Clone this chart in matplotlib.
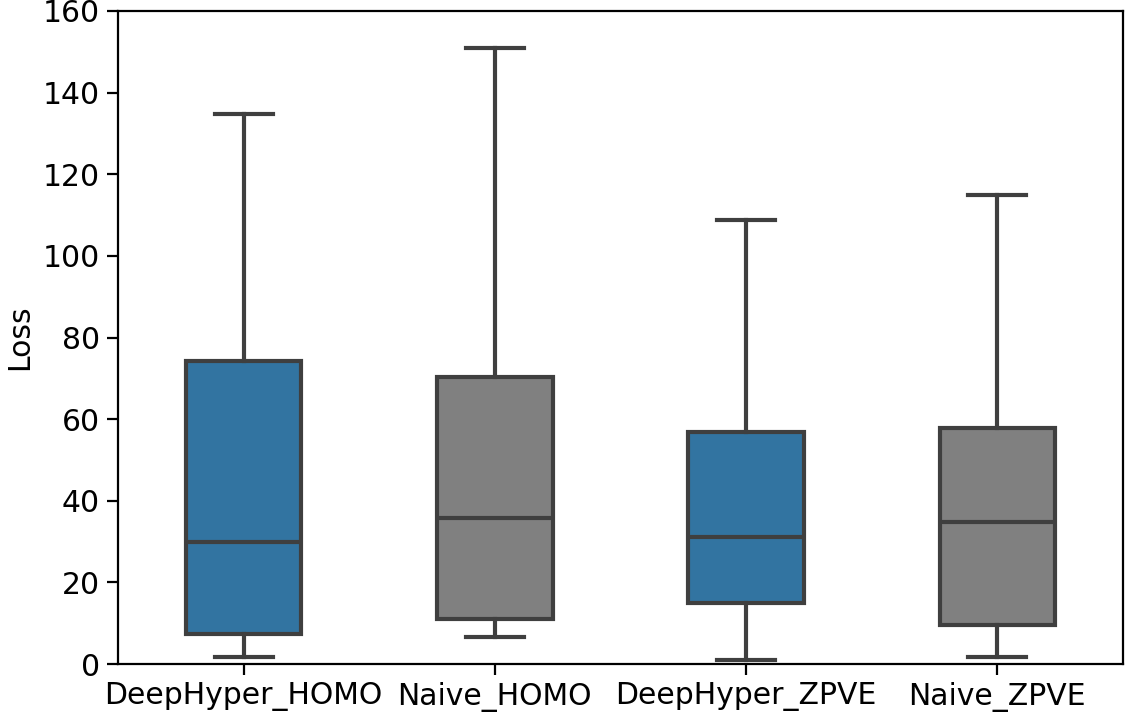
import matplotlib
matplotlib.use("Agg")
import matplotlib.pyplot as plt

labels = ["DeepHyper_HOMO", "Naive_HOMO", "DeepHyper_ZPVE", "Naive_ZPVE"]
whislo = [1.7, 6.6, 1.0, 1.7]
q1 = [7.3, 11.0, 14.9, 9.6]
med = [29.9, 35.8, 31.1, 34.8]
q3 = [74.2, 70.3, 56.8, 57.8]
whishi = [134.8, 150.9, 108.8, 114.9]
colors = ["#3274a1", "#808080", "#3274a1", "#808080"]

stats = []
for i in range(len(labels)):
    stats.append(dict(label=labels[i], whislo=whislo[i], q1=q1[i], med=med[i],
                      q3=q3[i], whishi=whishi[i], fliers=[]))

fig = plt.figure(figsize=(11.25, 7.15), dpi=100)
ax = fig.add_axes([118 / 1125, 1 - 664 / 715, 1005 / 1125, 653 / 715])

lc = "#3f3f3f"
lw = 3.0
bp = ax.bxp(stats, positions=range(len(labels)), widths=0.46, patch_artist=True,
            showfliers=False,
            boxprops=dict(edgecolor=lc, linewidth=lw),
            medianprops=dict(color=lc, linewidth=lw),
            whiskerprops=dict(color=lc, linewidth=lw),
            capprops=dict(color=lc, linewidth=lw))
for patch, c in zip(bp["boxes"], colors):
    patch.set_facecolor(c)

ax.set_xlim(-0.5, 3.5)
ax.set_ylim(0, 160)
ax.set_yticks(range(0, 161, 20))
ax.set_ylabel("Loss", fontsize=21.5, labelpad=6)
ax.tick_params(labelsize=21.5, width=1.6, length=8, pad=5)
for s in ax.spines.values():
    s.set_linewidth(1.6)

fig.savefig("out.png", dpi=100)
